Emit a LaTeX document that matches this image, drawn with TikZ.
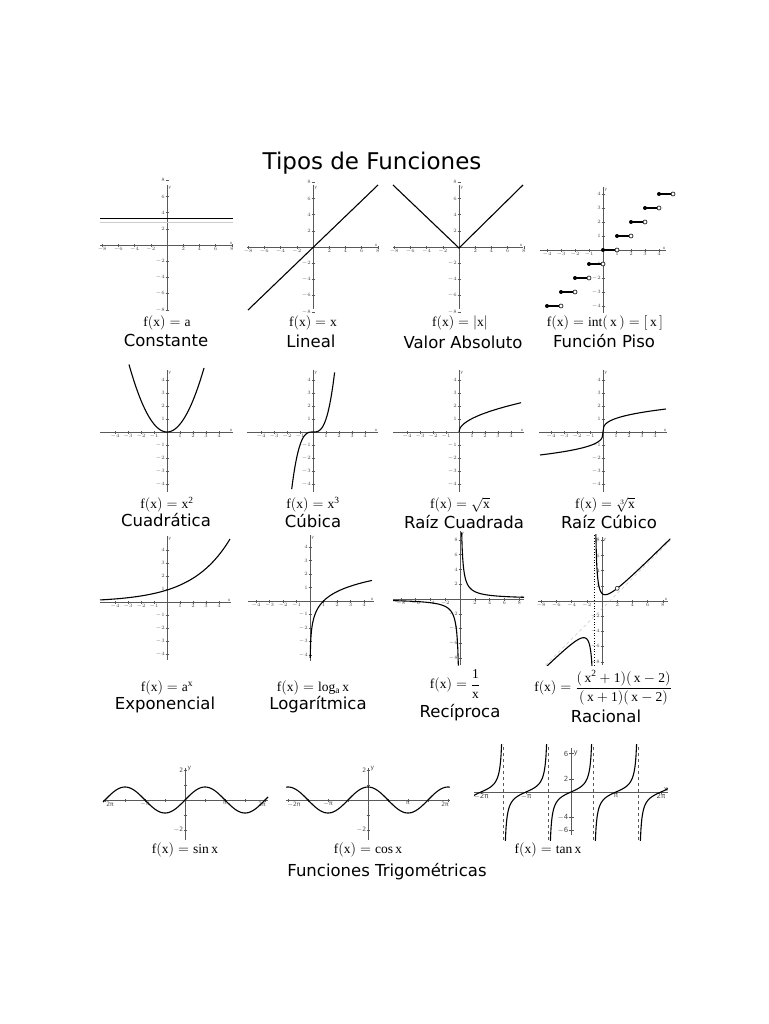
\documentclass[tikz,border=0pt]{standalone}
\usepackage{amsmath}
\usepackage{fontspec}
\setmainfont{DejaVu Sans}
\setmathrm{Liberation Serif}
\tikzset{
 axis/.style={gray!70!black,line width=0.6pt},
 crv/.style={line width=1.1pt,black},
 tick/.style={font=\fontsize{4}{4}\selectfont,inner sep=0.5pt,text=gray!60!black},
 fml/.style={font=\fontsize{13.5}{14}\selectfont,inner sep=1pt},
 nm/.style={font=\fontsize{16.5}{17}\selectfont,inner sep=1pt}
}
% ox oy xl xr yup ydown unit xticks yticks
\newcommand\axs[9]{%
 \draw[axis] (-#3,0)--(#4,0);
 \draw[axis] (0,#5)--(0,-#6);
 \foreach \t in {#8}{\draw[axis,line width=0.4pt] (\t*#7,-1.5)--(\t*#7,1.5); \node[tick,below] at (\t*#7,-1.5) {$\t$};}
 \foreach \t in {#9}{\draw[axis,line width=0.4pt] (-1.5,\t*#7)--(1.5,\t*#7); \node[tick,left] at (-1.5,\t*#7) {$\t$};}
 \node[tick,above left] at (#4,0) {x};
 \node[tick,right] at (1,#5-3) {y};
}
\begin{document}
\begin{tikzpicture}[x=1pt,y=-1pt]
\useasboundingbox (0,0) rectangle (768,1024);
\fill[white] (0,0) rectangle (768,1024);
\node[font=\fontsize{23}{25}\selectfont] (title) at (372,163) {Tipos de Funciones};

% Row 1
\begin{scope}[shift={(167,245)},yscale=-1]
 \axs{}{}{67}{66}{60}{65}{8.1}{-8,-6,-4,-2,2,4,6,8}{-8,-6,-4,-2,2,4,6,8}
 \draw[gray!40,line width=0.8pt] (-67,23)--(66,23);
 \draw[line width=0.9pt] (-67,27)--(66,27);
\end{scope}
\begin{scope}[shift={(313,247)},yscale=-1]
 \axs{}{}{66}{65}{62}{62}{8.1}{-8,-6,-4,-2,2,4,6,8}{-8,-6,-4,-2,2,4,6,8}
 \draw[crv] (-65,-63)--(65,62);
\end{scope}
\begin{scope}[shift={(459,247)},yscale=-1]
 \axs{}{}{66}{64}{62}{62}{8.1}{-8,-6,-4,-2,2,4,6,8}{-8,-6,-4,-2,2,4,6,8}
 \draw[crv] (-66,62)--(0,-1)--(64,62);
\end{scope}
\begin{scope}[shift={(603,250)},yscale=-1]
 \axs{}{}{63}{63}{63}{63}{14}{-4,-3,-2,-1,1,2,3,4}{-4,-3,-2,-1,1,2,3,4}
 \foreach \k in {-4,...,4}{
  \draw[crv] (\k*14,\k*14)--(\k*14+14,\k*14);
  \fill (\k*14,\k*14) circle (2pt);
  \draw[fill=white,line width=0.6pt] (\k*14+14,\k*14) circle (2pt);}
\end{scope}
\node[fml] (f1) at (167,323) {$\mathrm{f(x) = a}$};
\node[fml] (f2) at (313,323) {$\mathrm{f(x) = x}$};
\node[fml] (f3) at (460,323) {$\mathrm{f(x) = |x|}$};
\node[fml] (f4) at (605,323) {$\mathrm{f(x) = int(\,x\,) = [\,x\,]}$};
\node[nm] (n1) at (166,340) {Constante};
\node[nm] (n2) at (311,341) {Lineal};
\node[nm] (n3) at (463,342) {Valor Absoluto};
\node[nm] (n4) at (604,341) {Función Piso};

% Row 2
\begin{scope}[shift={(167,432)},yscale=-1]
 \axs{}{}{67}{66}{62}{60}{13}{-4,-3,-2,-1,1,2,3,4}{-4,-3,-2,-1,1,2,3,4}
 \draw[crv] plot[domain=-38:37,samples=60] (\x,{\x*\x/21.4});
\end{scope}
\begin{scope}[shift={(313,432)},yscale=-1]
 \axs{}{}{66}{65}{62}{60}{13}{-4,-3,-2,-1,1,2,3,4}{-4,-3,-2,-1,1,2,3,4}
 \draw[crv] plot[domain=-21.3:21.6,samples=80] (\x,{\x*\x*\x/169});
\end{scope}
\begin{scope}[shift={(459,432)},yscale=-1]
 \axs{}{}{66}{65}{62}{60}{13}{-4,-3,-2,-1,1,2,3,4}{-4,-3,-2,-1,1,2,3,4}
 \draw[crv] plot[domain=0:62,samples=80] (\x,{sqrt(13.8*\x)});
\end{scope}
\begin{scope}[shift={(603,432)},yscale=-1]
 \axs{}{}{64}{64}{62}{60}{13}{-4,-3,-2,-1,1,2,3,4}{-4,-3,-2,-1,1,2,3,4}
 \draw[crv] plot[domain=0:63,samples=80] (\x,{pow(193*\x,1/3)});
 \draw[crv] plot[domain=0:-63,samples=80] (\x,{-pow(-193*\x,1/3)});
\end{scope}
\node[fml] (g1) at (167,505) {$\mathrm{f(x) = x^2}$};
\node[fml] (g2) at (313,505) {$\mathrm{f(x) = x^3}$};
\node[fml] (g3) at (460,505) {$\mathrm{f(x) = \sqrt{x}}$};
\node[fml] (g4) at (605,505) {$\mathrm{f(x) = \sqrt[3]{\mathrm{x}}}$};
\node[nm] (m1) at (166,520) {Cuadrática};
\node[nm] (m2) at (313,521) {Cúbica};
\node[nm] (m3) at (464,522) {Raíz Cuadrada};
\node[nm] (m4) at (609,522) {Raíz Cúbico};

% Row 3
\begin{scope}[shift={(167,602)},yscale=-1]
 \axs{}{}{67}{64}{66}{58}{13}{-4,-3,-2,-1,1,2,3,4}{-4,-3,-2,-1,1,2,3,4}
 \draw[crv] plot[domain=-67:63,samples=80] (\x,{12*exp(\x/38)});
\end{scope}
\begin{scope}[shift={(310,601)},yscale=-1]
 \axs{}{}{62}{64}{66}{60}{13.5}{-4,-3,-2,-1,1,2,3,4}{-4,-3,-2,-1,1,2,3,4}
 \draw[crv] plot[domain=0.2:62,samples=150] (\x,{13.5*ln(\x/13.5)});
\end{scope}
\begin{scope}[shift={(460,599)},yscale=-1]
 \axs{}{}{67}{64}{68}{66}{7.4}{-8,-6,-4,-2,2,4,6,8}{-8,-6,-4,-2,2,4,6,8}
 \draw[crv] plot[domain=1.65:64,samples=120] (\x,{110/\x});
 \draw[crv] plot[domain=-67:-1.65,samples=120] (\x,{110/\x});
\end{scope}
\begin{scope}[shift={(602,601)},yscale=-1]
 \axs{}{}{64}{66}{64}{64}{7.6}{-8,-6,-4,-2,2,4,6,8}{-8,-6,-4,-2,2,4,6,8}
 \begin{scope}[x=7.6pt,y=-7.6pt]
  \clip (-8.6,-8.5) rectangle (9,8.7);
  \draw[gray!60,dashed,line width=0.5pt] (-8,-9)--(9,8);
  \draw[black,dotted,line width=0.7pt] (-1,-8.5)--(-1,8.7);
  \draw[crv] plot[domain=-8.6:-1.13,samples=120] (\x,{(\x*\x+1)/(\x+1)});
  \draw[crv] plot[domain=-0.89:9,samples=150] (\x,{(\x*\x+1)/(\x+1)});
  \draw[fill=white,line width=0.5pt] (2,5/3) circle (2pt);
 \end{scope}
\end{scope}
\node[fml] (h1) at (167,688) {$\mathrm{f(x) = a^x}$};
\node[fml] (h2) at (313,688) {$\mathrm{f(x) = log_a\,x}$};
\node[fml] (h3) at (455,684) {$\mathrm{f(x) = \dfrac{1}{x}}$};
\node[fml] (h4) at (603,688) {$\mathrm{f(x) = \dfrac{(\,x^2+1)(\,x-2)}{(\,x+1)(\,x-2)}}$};
\node[nm] (k1) at (165,705) {Exponencial};
\node[nm] (k2) at (318,705) {Logarítmica};
\node[nm] (k3) at (460,713) {Recíproca};
\node[nm] (k4) at (606,716) {Racional};

% Row 4 trig
\begin{scope}[shift={(185,800)},yscale=-1]
 \draw[axis] (-82,0)--(83,0); \draw[axis] (0,-40)--(0,32);
 \foreach \t in {-80,-60,-40,-20,20,40,60,80}{\draw[axis,line width=0.4pt] (\t,-1.5)--(\t,1.5);}
 \foreach \t in {-30,-15,15,30}{\draw[axis,line width=0.4pt] (-1.5,\t)--(1.5,\t);}
 \node[tick,font=\fontsize{6}{6}\selectfont,below] at (-75,-1) {2π};
 \node[tick,font=\fontsize{6}{6}\selectfont,below] at (-40,-1) {$-$π};
 \node[tick,font=\fontsize{6}{6}\selectfont,below] at (40,-1) {π};
 \node[tick,font=\fontsize{6}{6}\selectfont,below] at (77,-1) {2π};
 \node[tick,font=\fontsize{6}{6}\selectfont,left] at (-1,30) {2};
 \node[tick,font=\fontsize{6}{6}\selectfont,left] at (-1,-30) {$-$2};
 \node[tick,font=\fontsize{6}{6}\selectfont,right] at (2,32) {y};
 \draw[crv] plot[domain=-82:83,samples=120] (\x,{13*sin(\x/40*180)});
\end{scope}
\begin{scope}[shift={(368,800)},yscale=-1]
 \draw[axis] (-82,0)--(82,0); \draw[axis] (0,-40)--(0,32);
 \foreach \t in {-80,-60,-40,-20,20,40,60,80}{\draw[axis,line width=0.4pt] (\t,-1.5)--(\t,1.5);}
 \foreach \t in {-30,-15,15,30}{\draw[axis,line width=0.4pt] (-1.5,\t)--(1.5,\t);}
 \node[tick,font=\fontsize{6}{6}\selectfont,below] at (-74,-1) {$-$2π};
 \node[tick,font=\fontsize{6}{6}\selectfont,below] at (-40,-1) {$-$π};
 \node[tick,font=\fontsize{6}{6}\selectfont,below] at (40,-1) {π};
 \node[tick,font=\fontsize{6}{6}\selectfont,below] at (77,-1) {2π};
 \node[tick,font=\fontsize{6}{6}\selectfont,left] at (-1,30) {2};
 \node[tick,font=\fontsize{6}{6}\selectfont,left] at (-1,-30) {$-$2};
 \node[tick,font=\fontsize{6}{6}\selectfont,right] at (2,32) {y};
 \draw[crv] plot[domain=-82:82,samples=120] (\x,{13*cos(\x/40*180)});
\end{scope}
\begin{scope}[shift={(571,792)},yscale=-1]
 \draw[axis] (-97,0)--(97,0); \draw[axis] (0,-43)--(0,44);
 \foreach \t in {-90,-45,45,90}{\draw[axis,line width=0.4pt] (\t,-1.5)--(\t,1.5);}
 \foreach \v/\l in {38.4/6,12.8/2,-25.6/$-$4,-38.4/$-$6}{\draw[axis,line width=0.4pt] (-2.5,\v)--(2.5,\v); \node[tick,font=\fontsize{7}{7}\selectfont,left] at (-2,\v) {\l};}
 \node[tick,font=\fontsize{7}{7}\selectfont,right] at (2,39) {y};
 \node[tick,font=\fontsize{7}{7}\selectfont,above] at (95,0) {x};
 \foreach \p/\l in {-90/$-$2π,-45/$-$π,45/π,90/2π}{\node[tick,font=\fontsize{7}{7}\selectfont,below] at (\p,-1) {\l};}
 \foreach \a in {-67.5,-22.5,22.5,67.5}{\draw[gray!70!black,dashed,line width=0.5pt] (\a,-48)--(\a,48);}
 \begin{scope}
  \clip (-97,-48) rectangle (97,48);
  \foreach \c in {-45,0,45}{\draw[crv] plot[domain=\c-21:\c+21,samples=80] (\x,{6.4*tan(\x/45*180)});}
  \draw[crv] plot[domain=-97:-69,samples=60] (\x,{6.4*tan(\x/45*180)});
  \draw[crv] plot[domain=69:97,samples=60] (\x,{6.4*tan(\x/45*180)});
 \end{scope}
\end{scope}
\node[fml] (t1) at (185,850) {$\mathrm{f(x) = \sin x}$};
\node[fml] (t2) at (368,850) {$\mathrm{f(x) = \cos x}$};
\node[fml] (t3) at (548,850) {$\mathrm{f(x) = \tan x}$};
\node[font=\fontsize{16.5}{17}\selectfont] (trig) at (387,872) {Funciones Trigométricas};
\end{tikzpicture}
\end{document}
